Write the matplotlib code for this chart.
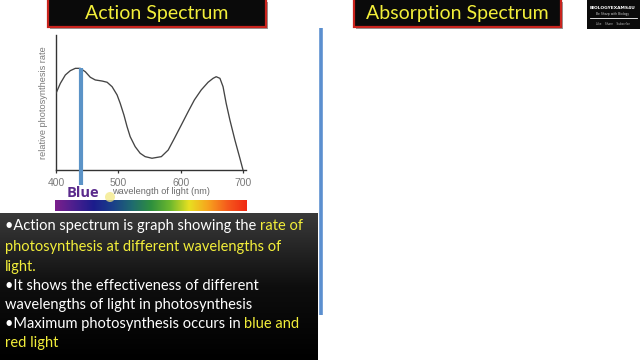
import matplotlib
matplotlib.use("Agg")
import matplotlib.pyplot as plt
import numpy as np
from matplotlib.patches import Rectangle, Circle
from matplotlib.colors import LinearSegmentedColormap

# ---- data ----
wavelength = [400, 407, 415, 423, 431, 439, 447, 455, 463, 474, 482, 490, 498, 503,
              509, 514, 519, 527, 535, 543, 554, 569, 580, 590, 601, 612, 622, 633,
              644, 652, 657, 663, 668, 673, 679, 687, 695, 700]
rate = [0.568, 0.642, 0.704, 0.736, 0.753, 0.753, 0.728, 0.687, 0.667, 0.659, 0.650,
        0.617, 0.556, 0.494, 0.407, 0.321, 0.247, 0.173, 0.124, 0.099, 0.087, 0.099,
        0.148, 0.235, 0.333, 0.432, 0.519, 0.593, 0.650, 0.679, 0.691, 0.679, 0.617,
        0.494, 0.370, 0.222, 0.087, 0.0]
xticks = [400, 500, 600, 700]
blue_nm = 440
blue_rate = 0.755
spectrum_colors = ["#7b1f8c", "#4a1f8f", "#1c1c8c", "#1a3f8a", "#1f6a70", "#2e8f3e",
                   "#6cb82e", "#e8e021", "#f7a21e", "#f55a1c", "#f02a14"]
title_left = "Action Spectrum"
title_right = "Absorption Spectrum"
body_lines = [
    [("•Action spectrum is graph showing the ", "w"), ("rate of", "y")],
    [("photosynthesis at different wavelengths of", "y")],
    [("light.", "y")],
    [("•It shows the effectiveness of different", "w")],
    [("wavelengths of light in photosynthesis", "w")],
    [("•Maximum photosynthesis occurs in ", "w"), ("blue and", "y")],
    [("red light", "y")],
]

W, H = 640, 360
fig = plt.figure(figsize=(6.4, 3.6), dpi=100)
fig.patch.set_facecolor("white")

# background pixel-coordinate axes
bg = fig.add_axes([0, 0, 1, 1])
bg.set_xlim(0, W)
bg.set_ylim(H, 0)
bg.axis("off")

YEL = "#f2ee3a"

def title_box(x0, x1, text):
    bg.add_patch(Rectangle((x0 + 2, 2), x1 - x0, 27, facecolor="#9a9a9a", edgecolor="none", zorder=1))
    bg.add_patch(Rectangle((x0, -2), x1 - x0, 29, facecolor="#0a0a0a", edgecolor="#c9231d", lw=1.6, zorder=2))
    bg.text((x0 + x1) / 2, 14, text, color=YEL, fontsize=14, family="Lato",
            ha="center", va="center", zorder=3)

title_box(48, 266, title_left)
title_box(354, 561, title_right)

# logo
bg.add_patch(Rectangle((587, 0), 53, 29, facecolor="#0b0b0b", edgecolor="none", zorder=2))
bg.text(613, 8, "BIOLOGYEXAMS4U", color="white", fontsize=3.2, fontweight="bold",
        ha="center", va="center", zorder=3)
bg.text(613, 14, "Be Sharp with Biology", color="#cccccc", fontsize=2.2, ha="center", va="center", zorder=3)
bg.plot([590, 637], [18, 18], color="white", lw=0.6, zorder=3)
bg.text(613, 24, "Like    Share    Subscribe", color="#bbbbbb", fontsize=2, ha="center", va="center", zorder=3)

# vertical separator
bg.plot([321, 321], [28, 315], color="#5b8fcf", lw=2.6, solid_capstyle="butt", zorder=2)

# text box with gradient
grad = np.linspace(0, 1, 256).reshape(-1, 1)
cmap_bg = LinearSegmentedColormap.from_list("g", ["#3a3a3a", "#0e0e0e", "#000000"])
bg.imshow(grad, cmap=cmap_bg, extent=(0, 318, 360, 213), aspect="auto", zorder=1)
bg.set_xlim(0, W)
bg.set_ylim(H, 0)

line_y = [226, 247, 267, 286, 305, 324, 343]
fig.canvas.draw()
renderer = fig.canvas.get_renderer()
for y, segs in zip(line_y, body_lines):
    x = 5
    for txt, c in segs:
        t = bg.text(x, y, txt, color="white" if c == "w" else YEL, fontsize=10.5,
                    family="Lato", ha="left", va="center", zorder=3)
        bb = t.get_window_extent(renderer=renderer)
        x += bb.width * W / fig.bbox.width

# spectrum bar
cmap_sp = LinearSegmentedColormap.from_list("sp", spectrum_colors)
bar = np.linspace(0, 1, 512).reshape(1, -1)
bg.imshow(bar, cmap=cmap_sp, extent=(55, 247, 211, 200), aspect="auto", zorder=2)
bg.set_xlim(0, W)
bg.set_ylim(H, 0)

# chart axes
ax_l, ax_r, ax_t, ax_b = 56, 246, 35, 170
px_per_nm = (243 - 56) / 300
ax = fig.add_axes([ax_l / W, (H - ax_b) / H, (ax_r - ax_l) / W, (ax_b - ax_t) / H])
ax.patch.set_alpha(0)
ax.set_xlim(400, 400 + (ax_r - ax_l) / px_per_nm)
ax.set_ylim(0, 1)
for s in ["top", "right"]:
    ax.spines[s].set_visible(False)
for s in ["left", "bottom"]:
    ax.spines[s].set_color("#333333")
    ax.spines[s].set_linewidth(1.0)
ax.set_yticks([])
ax.set_xticks(xticks)
ax.tick_params(axis="x", length=2.5, width=0.9, color="#333333", pad=3,
               labelsize=7.5, labelcolor="#7a7a7a")
for lab in ax.get_xticklabels():
    lab.set_family("Liberation Sans")
ax.plot(wavelength, rate, color="#444444", lw=0.95, zorder=3,
        solid_joinstyle="round", solid_capstyle="round")
ax.plot([blue_nm, blue_nm], [blue_rate, -0.11], color="#5b93c7", lw=3.0,
        solid_capstyle="butt", clip_on=False, zorder=4)
ax.set_ylabel("relative photosynthesis rate", fontsize=6.6, color="#7a7a7a",
              family="Liberation Sans", labelpad=6)

bg.text(67, 193, "Blue", color="#5a2a8c", fontsize=10.5, fontweight="bold",
        family="Open Sans", ha="left", va="center", zorder=5)
bg.text(112, 192, "wavelength of light (nm)", color="#6a6a6a", fontsize=6.6,
        family="Liberation Sans", ha="left", va="center", zorder=5)
bg.add_patch(Circle((110, 197), 5, facecolor="#f3e77a", alpha=0.7, edgecolor="none", zorder=6))

fig.savefig("out.png", dpi=100)
